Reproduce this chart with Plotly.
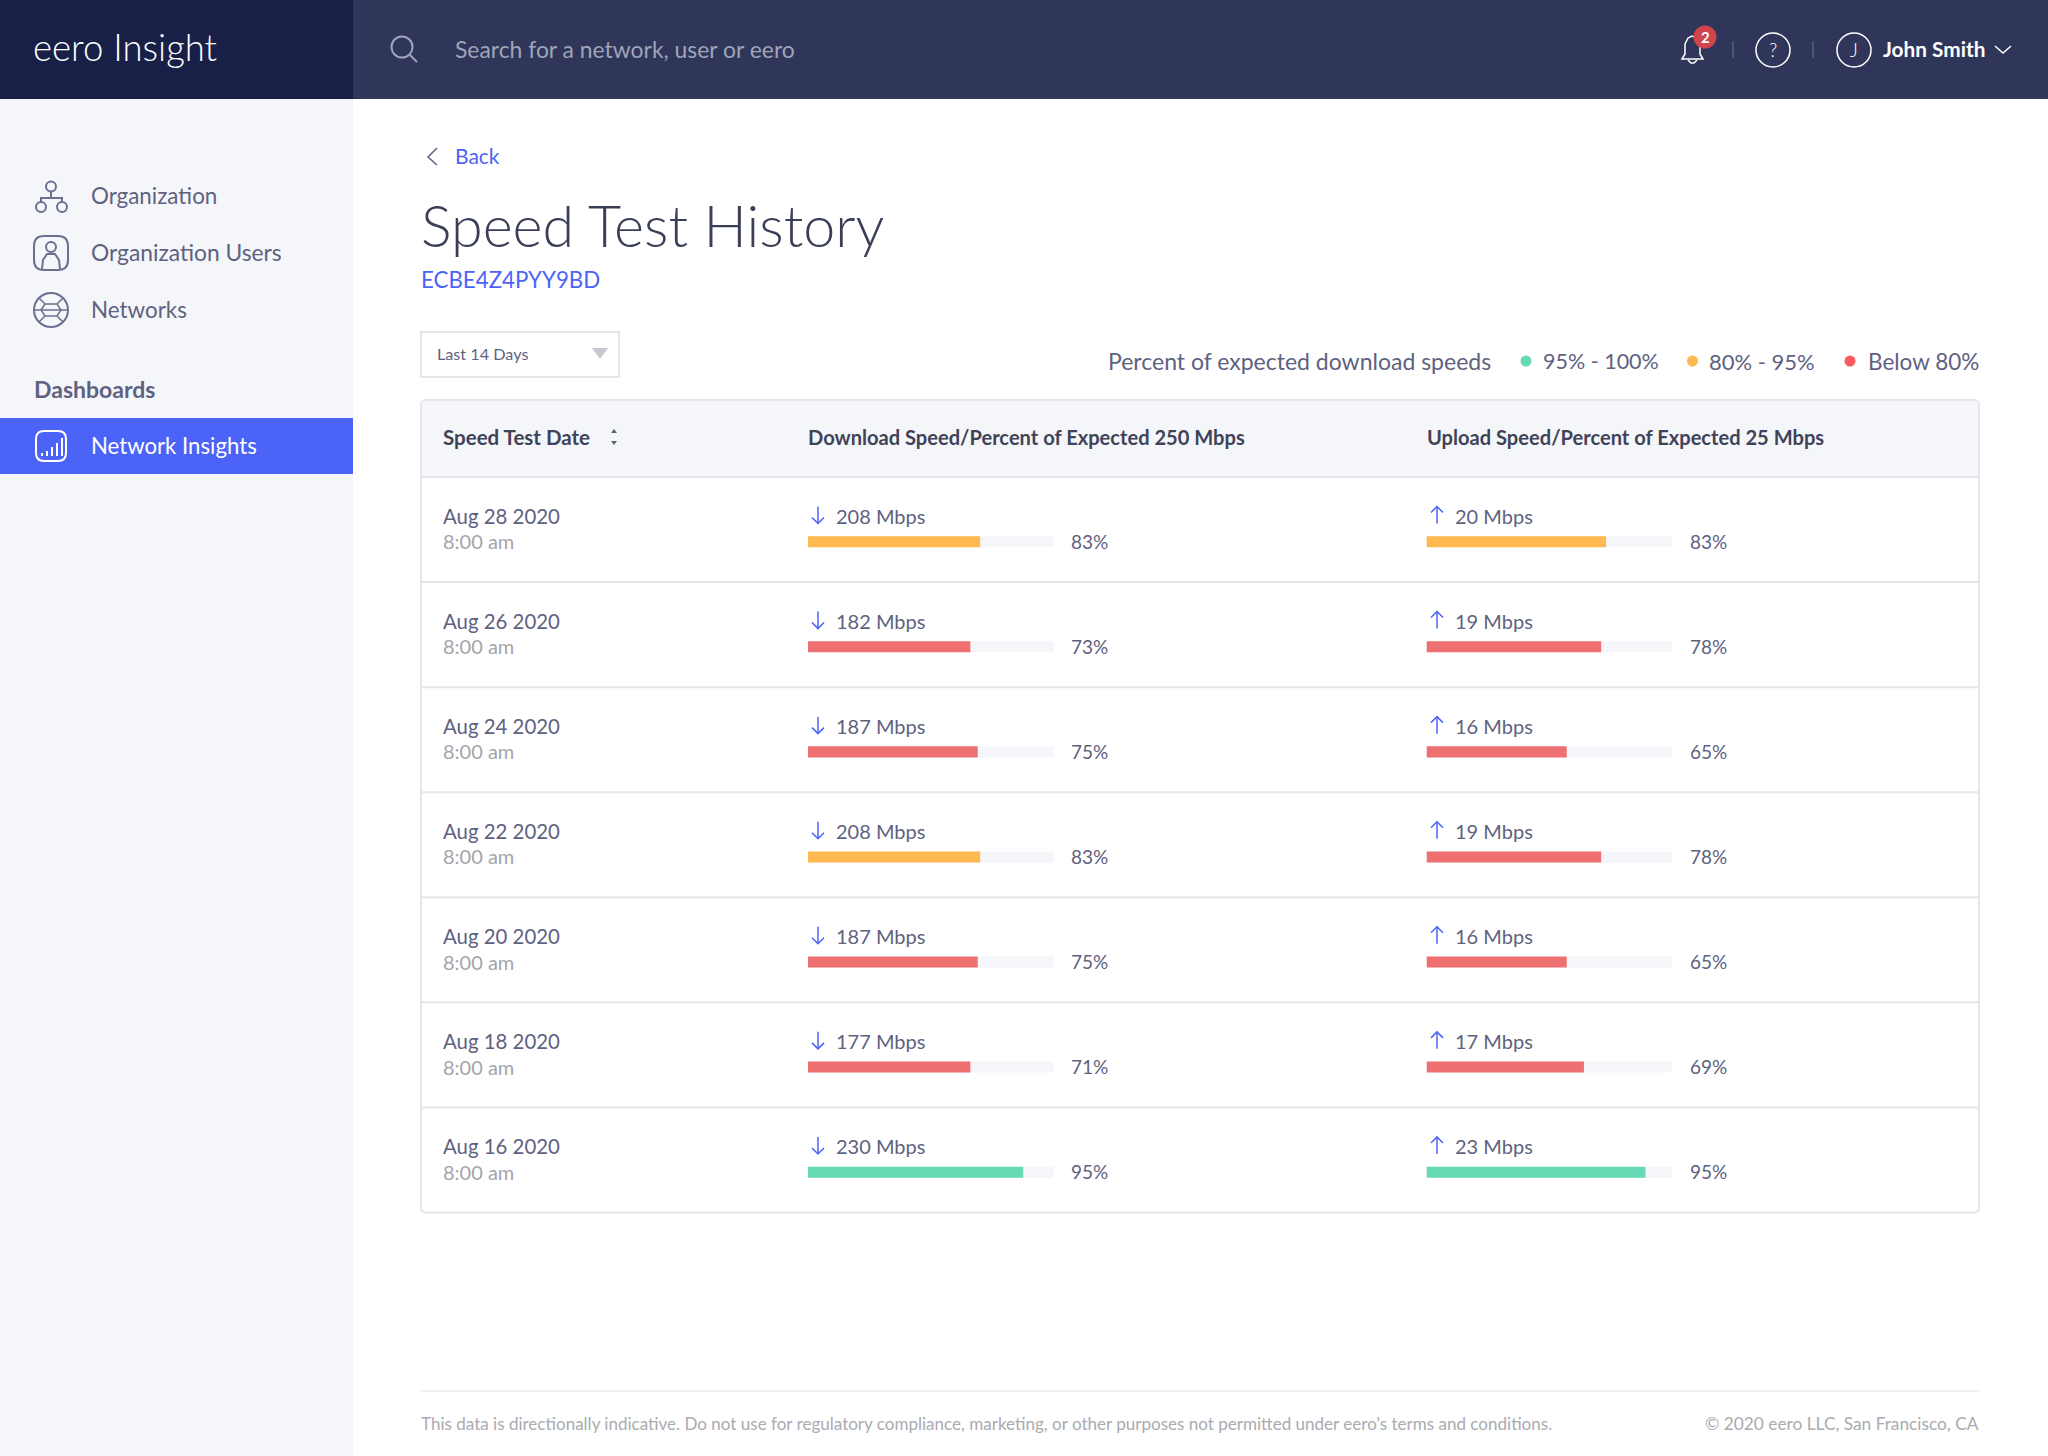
import plotly.graph_objects as go

# table data
dates = ['Aug 28 2020', 'Aug 26 2020', 'Aug 24 2020', 'Aug 22 2020', 'Aug 20 2020', 'Aug 18 2020', 'Aug 16 2020']
times = ['8:00 am'] * 7
download_mbps = [208, 182, 187, 208, 187, 177, 230]
download_pct = [83, 73, 75, 83, 75, 71, 95]
download_fill = [70, 66, 69, 70, 69, 66, 87.5]
upload_mbps = [20, 19, 16, 19, 16, 17, 23]
upload_pct = [83, 78, 65, 78, 65, 69, 95]
upload_fill = [73, 71, 57, 71, 57, 64, 89]
track = [100] * 7

legend_labels = ['95% - 100%', '80% - 95%', 'Below 80%']
legend_sizes = [21.5, 22, 22.5]
nav_items = ['Organization', 'Organization Users', 'Networks']
nav_sizes = [22.4, 22.8, 22.4]

W = 2048
H = 1456
FONT = 'Lato'
BLUE = '#4c63f8'
INK = '#5e6280'
GREEN = '#66d9b5'
AMBER = '#ffb951'
RED = '#ee7070'
LINE = '#e4e6ea'
TABLE_TOP = 400
HEAD_BOTTOM = 477
TABLE_BOTTOM = 1212.5
TABLE_LEFT = 421
TABLE_RIGHT = 1979
ROW_H = (TABLE_BOTTOM - HEAD_BOTTOM) / 7
BAR_SHIFT = 12.2


def fx(x):
    return x / W


def fy(y):
    return 1 - y / H


def band_color(pct):
    if pct >= 95:
        return GREEN
    if pct >= 80:
        return AMBER
    return RED


shapes = []
notes = []


def rect(x0, y0, x1, y1, fill, line=None, lw=0):
    shapes.append(dict(type='rect', xref='paper', yref='paper', x0=fx(x0), x1=fx(x1), y0=fy(y0), y1=fy(y1),
                       fillcolor=fill, line=dict(color=line or fill, width=lw), layer='below'))


def circle(cx, cy, r, fill='rgba(0,0,0,0)', line=None, lw=0):
    shapes.append(dict(type='circle', xref='paper', yref='paper', x0=fx(cx - r), x1=fx(cx + r), y0=fy(cy - r), y1=fy(cy + r),
                       fillcolor=fill, line=dict(color=line or fill, width=lw), layer='below'))


def path(points, color, lw=2, fill='rgba(0,0,0,0)', close=False):
    d = 'M ' + ' L '.join(f'{fx(x):.5f},{fy(y):.5f}' for x, y in points)
    if close:
        d += ' Z'
    shapes.append(dict(type='path', xref='paper', yref='paper', path=d, fillcolor=fill,
                       line=dict(color=color, width=lw), layer='below'))


def rounded(x0, y0, x1, y1, r, color, lw=2, fill='rgba(0,0,0,0)'):
    d = (f'M {fx(x0 + r):.5f},{fy(y0):.5f} L {fx(x1 - r):.5f},{fy(y0):.5f} '
         f'Q {fx(x1):.5f},{fy(y0):.5f} {fx(x1):.5f},{fy(y0 + r):.5f} L {fx(x1):.5f},{fy(y1 - r):.5f} '
         f'Q {fx(x1):.5f},{fy(y1):.5f} {fx(x1 - r):.5f},{fy(y1):.5f} L {fx(x0 + r):.5f},{fy(y1):.5f} '
         f'Q {fx(x0):.5f},{fy(y1):.5f} {fx(x0):.5f},{fy(y1 - r):.5f} L {fx(x0):.5f},{fy(y0 + r):.5f} '
         f'Q {fx(x0):.5f},{fy(y0):.5f} {fx(x0 + r):.5f},{fy(y0):.5f} Z')
    shapes.append(dict(type='path', xref='paper', yref='paper', path=d, fillcolor=fill,
                       line=dict(color=color, width=lw), layer='below'))


def text(x, y, s, size, color=INK, anchor='left', weight=400):
    notes.append(dict(x=fx(x), y=fy(y), xref='paper', yref='paper', text=s, showarrow=False, xanchor=anchor,
                      yanchor='middle', borderpad=0, font=dict(family=FONT, size=size, color=color, weight=weight)))


def row_text(x, date, shift, s, size, color=INK):
    # x in page pixels, y follows the row on the bar axis
    notes.append(dict(x=fx(x), y=date, xref='paper', yref='y', yshift=shift, text=s, showarrow=False, xanchor='left',
                      yanchor='middle', borderpad=0, font=dict(family=FONT, size=size, color=color)))


# header and sidebar
rect(0, 0, W, 99, '#2f3659')
rect(0, 0, 353, 99, '#182048')
rect(0, 99, 353, H, '#f5f6f9')
rect(0, 418, 353, 474, BLUE)

text(32, 47, 'eero Insight', 36.5, 'white', weight=300)
circle(402, 47, 10.5, line='#a0a4b8', lw=2)
path([(410, 55), (417, 62)], '#a0a4b8')
text(454, 49, 'Search for a network, user or eero', 22.9, '#a0a4b8')

# bell, help, user
path([(1682, 59), (1685, 54), (1685, 44), (1688, 38), (1692, 36), (1697, 38), (1700, 44), (1700, 54), (1703, 59)], 'white', 1.5, close=True)
path([(1688, 60), (1691, 63), (1694, 63), (1697, 60)], 'white', 1.5)
circle(1705, 37, 11.5, '#d0454c')
text(1705, 37, '2', 15, 'white', 'center', 700)
rect(1732.5, 41, 1733.5, 58, '#6d7290')
rect(1812.5, 41, 1813.5, 58, '#6d7290')
circle(1773, 50, 17, line='white', lw=1.5)
text(1773, 50, '?', 19, 'white', 'center', 300)
circle(1854, 50, 17, line='white', lw=1.5)
text(1854, 50, 'J', 19, 'white', 'center', 300)
text(1882, 49, 'John Smith', 20.8, 'white', weight=700)
path([(1995, 46), (2003, 53), (2011, 46)], 'white', 1.5)

# sidebar nav
ICON = '#6b7090'
circle(51, 186.5, 5, line=ICON, lw=2)
circle(41, 207, 5, line=ICON, lw=2)
circle(62, 207, 5, line=ICON, lw=2)
path([(51, 192), (51, 198)], ICON)
path([(41, 202), (41, 198), (62, 198), (62, 202)], ICON)
rounded(34, 236, 68, 270, 10, ICON)
circle(51, 247, 5, line=ICON, lw=2)
path([(42, 269), (43, 260), (47, 254), (55, 254), (59, 260), (60, 269)], ICON)
circle(51, 310, 17, line=ICON, lw=2)
path([(34, 310), (68, 310)], ICON, 1.5)
path([(39, 298), (45, 304), (57, 304), (63, 298)], ICON, 1.5)
path([(39, 322), (45, 316), (57, 316), (63, 322)], ICON, 1.5)
path([(45, 304), (41, 310), (45, 316)], ICON, 1.5)
path([(57, 304), (61, 310), (57, 316)], ICON, 1.5)
rounded(36, 431, 66, 461, 8, 'white')
for bar_x, bar_top in [(42, 453), (47, 451), (52, 447), (57, 443), (62, 438)]:
    path([(bar_x, 456), (bar_x, bar_top)], 'white', 2)

for label, y, size in zip(nav_items, [196, 252, 309], nav_sizes):
    text(90, y, label, size, INK)
text(33, 388.5, 'Dashboards', 23, INK, weight=700)
text(90, 445, 'Network Insights', 22.2, 'white')

# page head
path([(437, 148), (428, 157), (437, 165)], INK, 1.5)
text(454, 156, 'Back', 21, BLUE)
text(420, 224.5, 'Speed Test History', 57.4, '#3a3f57', weight=300)
text(420, 279, 'ECBE4Z4PYY9BD', 22.3, BLUE)

rect(421, 332, 619, 377, 'white', LINE, 2)
text(436, 353, 'Last 14 Days', 16.2, INK)
path([(592, 348), (608, 348), (600, 359)], '#c6c8d0', 0, fill='#c6c8d0', close=True)

text(1107, 361, 'Percent of expected download speeds', 23, INK)
for color, dot_x, label, label_x, size in zip([GREEN, AMBER, '#fb5a5f'], [1526, 1692.5, 1850], legend_labels, [1542, 1708, 1867], legend_sizes):
    circle(dot_x, 361, 5.5, color)
    text(label_x, 361, label, size, INK)

# table frame, header, row lines
rounded(TABLE_LEFT, TABLE_TOP, TABLE_RIGHT, TABLE_BOTTOM, 5, LINE, 2, 'white')
rect(TABLE_LEFT + 1, TABLE_TOP + 1, TABLE_RIGHT - 1, HEAD_BOTTOM, '#f5f6f9')
for i in range(7):
    y = HEAD_BOTTOM + i * ROW_H
    path([(TABLE_LEFT, y), (TABLE_RIGHT, y)], LINE, 2)

text(442, 437, 'Speed Test Date', 20.5, '#3f4358', weight=700)
path([(611, 433), (617, 433), (614, 429)], INK, 0, fill=INK, close=True)
path([(611, 441), (617, 441), (614, 445)], INK, 0, fill=INK, close=True)
text(807, 437, 'Download Speed/Percent of Expected 250 Mbps', 20.1, '#3f4358', weight=700)
text(1426, 437, 'Upload Speed/Percent of Expected 25 Mbps', 20.1, '#3f4358', weight=700)

# row texts and arrows
for i, date in enumerate(dates):
    row_text(442, date, 26, date, 20.4)
    row_text(442, date, 0.5, times[i], 20, '#a3a5ab')
    row_text(835, date, 26, f'{download_mbps[i]} Mbps', 20)
    row_text(1070, date, 0.5, f'{download_pct[i]}%', 19)
    row_text(1454, date, 26, f'{upload_mbps[i]} Mbps', 20)
    row_text(1689, date, 0.5, f'{upload_pct[i]}%', 19)
    top = HEAD_BOTTOM + i * ROW_H + 29.5
    path([(818, top), (818, top + 17)], BLUE, 1.5)
    path([(812, top + 11), (818, top + 17), (824, top + 11)], BLUE, 1.5)
    path([(1437, top), (1437, top + 17)], BLUE, 1.5)
    path([(1431, top + 6), (1437, top), (1443, top + 6)], BLUE, 1.5)

# footer
path([(TABLE_LEFT, 1391), (TABLE_RIGHT, 1391)], '#eceef0', 1.5)
text(420, 1423, "This data is directionally indicative. Do not use for regulatory compliance, marketing, or other purposes not permitted under eero's terms and conditions.", 17.05, '#a9abb0')
text(TABLE_RIGHT + 1, 1423, '© 2020 eero LLC, San Francisco, CA', 17.3, '#a9abb0', 'right')

fig = go.Figure()
for values, fills, pcts, xaxis in [(track, download_fill, download_pct, 'x'), (track, upload_fill, upload_pct, 'x2')]:
    fig.add_trace(go.Bar(x=values, y=dates, orientation='h', width=0.105, xaxis=xaxis, yaxis='y',
                         marker=dict(color='#f5f6f9', line_width=0), hoverinfo='skip', showlegend=False))
    fig.add_trace(go.Bar(x=fills, y=dates, orientation='h', width=0.105, xaxis=xaxis, yaxis='y',
                         marker=dict(color=[band_color(p) for p in pcts], line_width=0), hoverinfo='skip', showlegend=False))

fig.update_layout(
    width=W, height=H, margin=dict(l=0, r=0, t=0, b=0),
    paper_bgcolor='white', plot_bgcolor='rgba(0,0,0,0)',
    barmode='overlay', barcornerradius=2,
    shapes=shapes, annotations=notes,
    xaxis=dict(domain=[fx(808), fx(1054)], range=[0, 100], visible=False, fixedrange=True, anchor='y'),
    xaxis2=dict(domain=[fx(1426.5), fx(1672.5)], range=[0, 100], visible=False, fixedrange=True, anchor='y'),
    yaxis=dict(domain=[fy(TABLE_BOTTOM + BAR_SHIFT), fy(HEAD_BOTTOM + BAR_SHIFT)], type='category', categoryorder='array',
               categoryarray=dates, range=[6.5, -0.5], visible=False, fixedrange=True, anchor='x'),
)

fig.write_html('out.html', config=dict(displayModeBar=False), post_script="document.body.style.margin='0';")
